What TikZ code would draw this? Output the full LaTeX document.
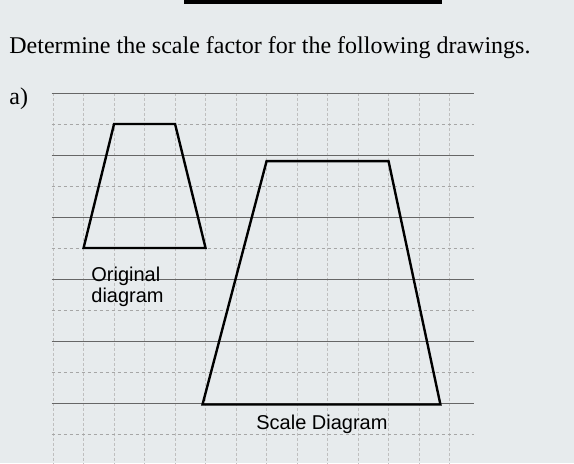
\documentclass[tikz,border=0pt]{standalone}
\usepackage{fontspec}
\setmainfont{Liberation Serif}
\setsansfont{Liberation Sans}
\usepackage{tikz}
\usetikzlibrary{backgrounds}

\definecolor{paper}{RGB}{231,235,237}

\begin{document}
\begin{tikzpicture}[x=30.5pt, y=31pt,
  every node/.style={inner sep=0pt},
  hnode/.style={font=\fontsize{24}{28}\selectfont, anchor=base west},
  lnode/.style={font=\sffamily\fontsize{20}{21}\selectfont, anchor=base west, align=left},
  rowline/.style={black!60, thin},
  midline/.style={black!35, thin, dashed},
  colline/.style={black!25, thin, densely dashed},
  trap/.style={line width=2.4pt, line join=miter}]

\useasboundingbox (-1.74,3) rectangle (17.08,-11.94);

\begin{scope}[on background layer]
\fill [paper] (-1.74,3) rectangle (17.08,-11.94);
\foreach \k in {0,...,13}
  \draw [colline] (\k,0) -- (\k,-11.94);
\foreach \j in {0,2,...,10}
  \draw [rowline] (-0.05,-\j) -- (13.8,-\j);
\foreach \j in {1,3,...,11}
  \draw [midline] (-0.05,-\j) -- (13.8,-\j);
\end{scope}

% top edge of the box above
\draw [line width=4pt] (4.3,2.93) -- (12.75,2.93);

\node (title) [hnode] at (-1.44,1.26) {Determine the scale factor for the following drawings.};
\node (parta) [hnode] at (-1.44,-0.36) {a)};

% original
\draw [trap] (2,-1) -- (4,-1) -- (5,-5) -- (1,-5) -- cycle;
\node (orig) [lnode] at (1.25,-6.77) {Original\\diagram};

% scale diagram
\draw [trap] (7,-2.2) -- (11,-2.2) -- (12.7,-10.05) -- (4.9,-10.05) -- cycle;
\node (scaled) [lnode] at (6.66,-10.87) {Scale Diagram};

\end{tikzpicture}
\end{document}
